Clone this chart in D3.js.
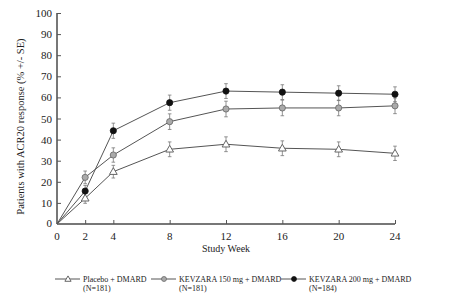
<!DOCTYPE html>
<html>
<head>
<meta charset="utf-8">
<script src="https://cdn.jsdelivr.net/npm/d3@7"></script>
<style>
  body { margin: 0; background: #fff; }
  svg { display: block; font-family: "Liberation Serif", "DejaVu Serif", serif; }
</style>
</head>
<body>
<svg width="453" height="306"></svg>
<script>
const weeks = [0, 2, 4, 8, 12, 16, 20, 24];
const yTicks = [0, 10, 20, 30, 40, 50, 60, 70, 80, 90, 100];

const placebo = [0, 12.2, 24.8, 35.4, 37.8, 35.9, 35.4, 33.5];
const placeboSE = [0, 2.4, 3.0, 3.5, 3.5, 3.5, 3.5, 3.4];
const kev150 = [0, 22.1, 32.7, 48.5, 54.5, 55.0, 55.0, 56.0];
const kev150SE = [0, 3.0, 3.4, 3.7, 3.7, 3.7, 3.7, 3.7];
const kev200 = [0, 15.6, 44.2, 57.5, 63.0, 62.5, 62.0, 61.5];
const kev200SE = [0, 2.7, 3.6, 3.6, 3.5, 3.5, 3.5, 3.5];

const seriesNames = ["Placebo + DMARD", "KEVZARA 150 mg + DMARD", "KEVZARA 200 mg + DMARD"];
const seriesN = ["(N=181)", "(N=181)", "(N=184)"];

const series = [
  { name: seriesNames[0], n: seriesN[0], values: placebo, se: placeboSE, marker: "triangle", fill: "#fff", stroke: "#666" },
  { name: seriesNames[1], n: seriesN[1], values: kev150, se: kev150SE, marker: "circle", fill: "#aaa", stroke: "#666" },
  { name: seriesNames[2], n: seriesN[2], values: kev200, se: kev200SE, marker: "circle", fill: "#111", stroke: "#111" }
];

const margin = { top: 13, left: 57 };
const plotW = 338, plotH = 211;

const svg = d3.select("svg");
const g = svg.append("g").attr("transform", `translate(${margin.left},${margin.top})`);

const x = d3.scaleLinear().domain([0, 24]).range([0, plotW]);
const y = d3.scaleLinear().domain([0, 100]).range([plotH, 0]);

// y axis
const yAxis = g.append("g")
  .call(d3.axisRight(y).tickValues(yTicks).tickSize(4).tickFormat(""));
yAxis.select(".domain").attr("stroke", "#777").attr("stroke-width", 2).attr("d", `M0,0V${plotH}`);
yAxis.selectAll(".tick line").attr("stroke", "#555");
yTicks.forEach(t => {
  g.append("text")
    .attr("x", -5).attr("y", y(t) + (t === 0 ? 3 : 4))
    .attr("text-anchor", "end").attr("font-size", "11px").attr("fill", "#222")
    .text(t);
});

// x axis
const xAxis = g.append("g").attr("transform", `translate(0,${plotH})`)
  .call(d3.axisTop(x).tickValues(weeks.slice(1)).tickSize(4).tickFormat(""));
xAxis.select(".domain").attr("stroke", "#777").attr("stroke-width", 2).attr("d", `M0,0H${plotW}`);
xAxis.selectAll(".tick line").attr("stroke", "#555");
weeks.forEach(w => {
  g.append("text")
    .attr("x", x(w)).attr("y", plotH + 16)
    .attr("text-anchor", "middle").attr("font-size", "11px").attr("fill", "#222")
    .text(w);
});

g.append("text")
  .attr("x", plotW / 2).attr("y", plotH + 28)
  .attr("text-anchor", "middle").attr("font-size", "10px").attr("fill", "#222")
  .text("Study Week");

svg.append("text")
  .attr("transform", `translate(24,${margin.top + plotH / 2 + 8}) rotate(-90)`)
  .attr("text-anchor", "middle").attr("font-size", "10.5px").attr("fill", "#222")
  .text("Patients with ACR20 response (% +/- SE)");

const line = d3.line().x((d, i) => x(weeks[i])).y(d => y(d));

function drawMarker(sel, s, cx, cy, k) {
  if (s.marker === "triangle") {
    sel.append("path").attr("d", d3.symbol().type(d3.symbolTriangle).size(26 * k * k)())
      .attr("transform", `translate(${cx},${cy + 0.5})`)
      .attr("fill", s.fill).attr("stroke", s.stroke).attr("stroke-width", 1);
  } else {
    sel.append("circle").attr("cx", cx).attr("cy", cy).attr("r", 3.1 * k)
      .attr("fill", s.fill).attr("stroke", s.stroke).attr("stroke-width", 0.8);
  }
}

// error bars
series.forEach(s => {
  s.values.forEach((v, i) => {
    if (i === 0) return;
    const cx = x(weeks[i]);
    const y1 = y(v + s.se[i]), y2 = y(v - s.se[i]);
    const eb = g.append("g").attr("stroke", "#777").attr("stroke-width", 0.8);
    eb.append("line").attr("x1", cx).attr("x2", cx).attr("y1", y1).attr("y2", y2);
    eb.append("line").attr("x1", cx - 1.8).attr("x2", cx + 1.8).attr("y1", y1).attr("y2", y1);
    eb.append("line").attr("x1", cx - 1.8).attr("x2", cx + 1.8).attr("y1", y2).attr("y2", y2);
  });
});

// lines
series.forEach(s => {
  g.append("path").datum(s.values)
    .attr("d", line).attr("fill", "none")
    .attr("stroke", "#555").attr("stroke-width", 1);
});

// markers
series.forEach(s => {
  s.values.forEach((v, i) => {
    if (i === 0) return;
    drawMarker(g, s, x(weeks[i]), y(v), 1);
  });
});

// legend
const legendX = [55, 151, 281];
series.forEach((s, i) => {
  const lg = svg.append("g").attr("transform", `translate(${legendX[i]},279)`);
  lg.append("line").attr("x1", 0).attr("x2", 25).attr("y1", 0).attr("y2", 0)
    .attr("stroke", "#555").attr("stroke-width", 1);
  drawMarker(lg, s, 13, 0, 0.8);
  lg.append("text").attr("x", 28).attr("y", 3).attr("font-size", "8px").attr("fill", "#222").text(s.name);
  lg.append("text").attr("x", 28).attr("y", 12).attr("font-size", "8px").attr("fill", "#222").text(s.n);
});
</script>
</body>
</html>
